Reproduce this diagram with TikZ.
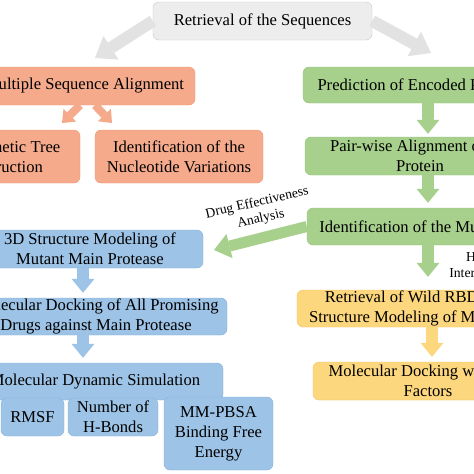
\documentclass[tikz,border=0pt]{standalone}
\usepackage{fontspec}
\setmainfont{Liberation Serif}
\usetikzlibrary{arrows.meta,calc,positioning}
\definecolor{grayfill}{HTML}{EDEDED}
\definecolor{grayline}{HTML}{C8C8C8}
\definecolor{grayarrowfill}{HTML}{E2E2E2}
\definecolor{orangefill}{HTML}{F6AA8C}
\definecolor{orangeline}{HTML}{EE9877}
\definecolor{greenfill}{HTML}{A8D08D}
\definecolor{greenline}{HTML}{96C27A}
\definecolor{bluefill}{HTML}{9DC3E6}
\definecolor{blueline}{HTML}{89B3DA}
\definecolor{yellowfill}{HTML}{FDD77E}
\definecolor{yellowline}{HTML}{F2C665}
\tikzset{
  box/.style={rounded corners=6pt, align=center, inner sep=0pt, thin, font=\fontsize{16.6}{20}\selectfont},
  graybox/.style={box, fill=grayfill, draw=grayline},
  orangebox/.style={box, fill=orangefill, draw=orangeline},
  greenbox/.style={box, fill=greenfill, draw=greenline},
  bluebox/.style={box, fill=bluefill, draw=blueline},
  yellowbox/.style={box, fill=yellowfill, draw=yellowline},
  flow/.style={line width=12pt, -{Triangle[width=23pt,length=14pt,line width=0pt]}},
  grayarrow/.style={line width=12pt, grayarrowfill, -{Triangle[width=28pt,length=19pt,line width=0pt]}},
  orangearrow/.style={line width=8pt, orangefill, -{Triangle[width=18pt,length=11pt,line width=0pt]}},
  note/.style={align=center, font=\fontsize{13.7}{16.5}\selectfont}
}
\begin{document}
\begin{tikzpicture}[x=1pt,y=-1pt]
  \clip (0,0) rectangle (474,474);
  \fill[white] (0,0) rectangle (474,474);
  % top
  \node[graybox, minimum width=219pt, minimum height=38pt] (seq) at (262.5,21) {Retrieval of the Sequences};
  % left branch
  \node[orangebox, minimum width=222pt, minimum height=38pt] (msa) at (84,86) {Multiple Sequence Alignment};
  \node[orangebox, minimum width=160pt, minimum height=53pt] (phylo) at (0,156.5) {Phylogenetic Tree\\Construction};
  \node[orangebox, minimum width=168pt, minimum height=53pt] (nucl) at (179,156.5) {Identification of the\\Nucleotide Variations};
  % right branch
  \node[greenbox, minimum width=236pt, minimum height=36pt] (pred) at (421,85) {Prediction of Encoded Proteins};
  \node[greenbox, minimum width=230pt, minimum height=38pt] (pair) at (420,156) {Pair-wise Alignment of the\\Protein};
  \node[greenbox, minimum width=228pt, minimum height=37pt] (ident) at (421,226.5) {Identification of the Mutations};
  \node[yellowbox, minimum width=262pt, minimum height=37pt] (wild) at (428,308.5) {Retrieval of Wild RBD and 3D\\Structure Modeling of Mutant RBD};
  \node[yellowbox, minimum width=230pt, minimum height=38pt] (hdock) at (428,381) {Molecular Docking with Host\\Factors};
  % protease branch
  \node[bluebox, minimum width=226pt, minimum height=38pt] (struct) at (90,249) {3D Structure Modeling of\\Mutant Main Protease};
  \node[bluebox, minimum width=262pt, minimum height=37pt] (alldock) at (96,316.5) {Molecular Docking of All Promising\\Drugs against Main Protease};
  \node[bluebox, minimum width=256pt, minimum height=37pt] (mds) at (95,381.5) {Molecular Dynamic Simulation};
  \node[bluebox, minimum width=63pt, minimum height=38pt] (rmsf) at (32.5,417) {RMSF};
  \node[bluebox, minimum width=90pt, minimum height=38pt] (hbond) at (113,417) {Number of\\H-Bonds};
  \node[bluebox, minimum width=109pt, minimum height=73pt] (mmpbsa) at (218.5,433.5) {MM-PBSA\\Binding Free\\Energy};
  % arrows
  \coordinate (ltip) at (95,58);
  \coordinate (rtip) at (431,53);
  \draw[grayarrow] (seq.west) -- (ltip);
  \draw[grayarrow] (seq.east) -- (rtip);
  \coordinate (otipa) at (62,123);
  \coordinate (otipb) at (112,123);
  \draw[orangearrow] ([xshift=-4pt]msa.south) -- (otipa);
  \draw[orangearrow] ([xshift=11pt]msa.south) -- (otipb);
  \coordinate (rc) at (428,0);
  \coordinate (lc) at (83,0);
  \foreach \a/\b/\s in {pred/pair/3, pair/ident/5, ident/wild/13}
    \draw[flow, greenfill, shorten >=\s pt] (\a.south -| rc) -- (\b.north -| rc);
  \draw[flow, yellowfill, shorten >=5pt] ([xshift=4pt]wild.south -| rc) -- ([xshift=4pt]hdock.north -| rc);
  \foreach \a/\b in {struct/alldock, alldock/mds}
    \draw[flow, bluefill, shorten >=5pt] (\a.south -| lc) -- (\b.north -| lc);
  \coordinate (dtip) at (214,250);
  \draw[flow, greenfill, line width=11pt, -{Triangle[width=25pt,length=16pt,line width=0pt]}] (ident.west) -- (dtip);
  % labels
  \node[note, rotate=13] (drug) at (259,211) {Drug Effectiveness\\Analysis};
  \node[note] (host) at (479,265) {Host\\Interaction};
\end{tikzpicture}
\end{document}
